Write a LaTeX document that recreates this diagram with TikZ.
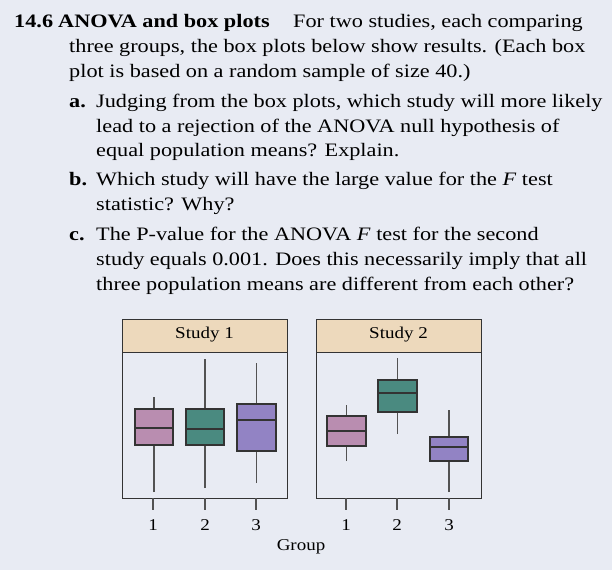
\documentclass[tikz,border=0pt]{standalone}
\usepackage{fontspec}
\setmainfont{Liberation Serif}
\definecolor{bg}{HTML}{E8EBF3}
\definecolor{hdr}{HTML}{EDD9BC}
\definecolor{cpink}{HTML}{B98DB0}
\definecolor{cteal}{HTML}{4A8A80}
\definecolor{cpurp}{HTML}{9283C4}
\definecolor{ink}{HTML}{333333}
\tikzset{
 txt/.style={anchor=base west,inner sep=0pt,xscale=1.17,font=\fontsize{19}{20}\selectfont},
 panel/.style={draw=ink,line width=1pt},
 whisk/.style={draw=ink!85,line width=1.3pt},
 boxst/.style={draw=ink,line width=1.1pt},
 med/.style={draw=ink,line width=1.8pt},
 lab/.style={font=\fontsize{16.5}{18}\selectfont,xscale=1.15,inner sep=0pt}
}
\newcommand{\bplot}[8]{%
 \draw[whisk] ({(#2+#3)/2},#4) -- ({(#2+#3)/2},#8);
 \filldraw[boxst,fill=#1] (#2,#5) rectangle (#3,#7);
 \draw[med] (#2,#6) -- (#3,#6);
}
\begin{document}
\begin{tikzpicture}[x=1pt,y=-1pt]
\fill[bg] (0,0) rectangle (612,570);
\useasboundingbox (0,0) rectangle (612,570);
\node[txt] (n) at (14,27) {\textbf{14.6}};
\node[txt] (t) at (58,27) {\textbf{ANOVA and box plots}};
\node[txt] (l1) at (293,27) {For two studies, each comparing};
\node[txt] (l2) at (69,52) {three groups, the box plots below show results. (Each box};
\node[txt] (l3) at (69,77) {plot is based on a random sample of size 40.)};
\node[txt] (a) at (69,107) {\textbf{a.}};
\node[txt] (a1) at (96,107) {Judging from the box plots, which study will more likely};
\node[txt] (a2) at (96,132) {lead to a rejection of the ANOVA null hypothesis of};
\node[txt] (a3) at (96,156) {equal population means? Explain.};
\node[txt] (b) at (69,185) {\textbf{b.}};
\node[txt] (b1) at (96,185) {Which study will have the large value for the \textit{F} test};
\node[txt] (b2) at (96,210) {statistic? Why?};
\node[txt] (c) at (69,240) {\textbf{c.}};
\node[txt] (c1) at (96,240) {The P-value for the ANOVA \textit{F} test for the second};
\node[txt] (c2) at (96,265) {study equals 0.001. Does this necessarily imply that all};
\node[txt] (c3) at (96,290) {three population means are different from each other?};
% panels
\filldraw[panel,fill=hdr] (122,319) rectangle (287,352);
\draw[panel] (122,352) rectangle (287,498);
\filldraw[panel,fill=hdr] (316,319) rectangle (481,352);
\draw[panel] (316,352) rectangle (481,498);
\node[lab] (s1) at (204.5,335) {Study 1};
\node[lab] (s2) at (398.5,335) {Study 2};
% study 1
\bplot{cpink}{135}{173}{492}{445}{428}{409}{397}
\bplot{cteal}{186}{224}{488}{445}{429}{409}{359}
\bplot{cpurp}{237}{276}{483}{451}{420}{404}{363}
% study 2
\bplot{cpink}{327}{366}{461}{446}{431}{416}{405}
\bplot{cteal}{378}{417}{434}{412}{393}{380}{358}
\bplot{cpurp}{430}{468}{492}{461}{447}{437}{410}
% ticks
\foreach \x/\l [count=\i] in {153/1,205/2,256/3,346/1,397/2,449/3}{
 \draw[whisk] (\x,498) -- (\x,510);
 \node[lab] (k\i) at (\x,525) {\l};
}
\node[lab] (g) at (301,547) {Group};
\end{tikzpicture}
\end{document}
